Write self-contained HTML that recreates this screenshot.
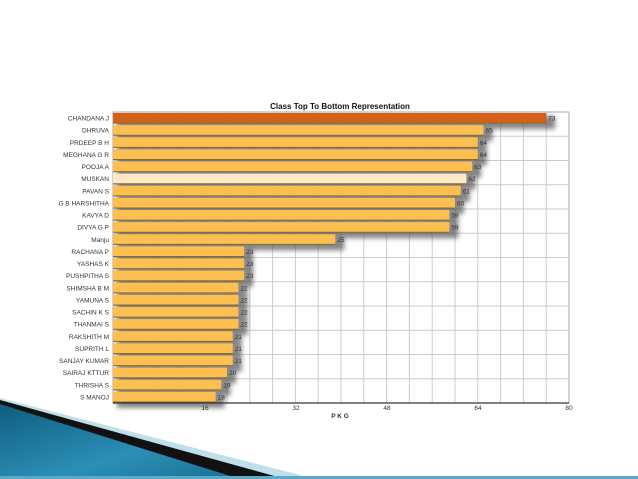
<!DOCTYPE html>
<html><head><meta charset="utf-8"><style>
body{margin:0;background:#fff;width:638px;height:479px;overflow:hidden;font-family:"Liberation Sans",sans-serif}
svg{display:block}
</style></head><body>
<svg id="c" width="638" height="479">
<defs>
<linearGradient id="sw" x1="0" y1="0" x2="1" y2="1"><stop offset="0" stop-color="#0f5d80"/><stop offset="0.6" stop-color="#2b8fb5"/><stop offset="1" stop-color="#1a6f94"/></linearGradient>
<filter id="sh" x="-10%" y="-50%" width="130%" height="250%"><feGaussianBlur stdDeviation="2.5"/></filter>
</defs>
<g>
<polygon points="0,398 300,475 300,479 0,479" fill="#bfe0ea"/>
<polygon points="0,400 285,479 0,479" fill="#111"/>
<polygon points="0,404 240,479 0,479" fill="url(#sw)"/>
<rect x="0" y="476" width="638" height="3" fill="#5aa9c6"/>
</g>
<text x="340" y="109" font-size="8" font-weight="bold" text-anchor="middle" fill="#111">Class Top To Bottom Representation</text>
<g id="grid"></g>
<g id="bars"></g>
<g id="axis"></g>
</svg>
<script>
const names=["CHANDANA J","DHRUVA","PRDEEP  B H","MEGHANA G R","POOJA A","MUSKAN","PAVAN  S","G  B  HARSHITHA","KAVYA D","DIVYA G P","Manju","RACHANA P","YASHAS K","PUSHPITHA S","SHIMSHA  B M","YAMUNA  S","SACHIN K S","THANMAI  S","RAKSHITH  M","SUPRITH L","SANJAY KUMAR","SAIRAJ KTTUR","THRISHA    S","S  MANOJ"];
const values=[76,65,64,64,63,62,61,60,59,59,39,23,23,23,22,22,22,22,21,21,21,20,19,18];
const printed=["73","65","64","64","63","62","61","60","59","59","25","23","23","23","22","22","22","22","21","21","21","20","19","18"];
const ticks=[16,32,48,64,80];
const X0=113,X1=569,T=112,B=403,XMAX=80;
const x=v=>X0+(v/XMAX)*(X1-X0);
const pitch=(B-T)/names.length;
const y=i=>T+i*pitch;
const NS="http://www.w3.org/2000/svg";
function mk(t,a,p){const e=document.createElementNS(NS,t);for(const k in a)e.setAttribute(k,a[k]);p.appendChild(e);return e;}
const G=document.getElementById('grid'),Bs=document.getElementById('bars'),A=document.getElementById('axis');
mk('rect',{x:X0,y:T,width:X1-X0,height:B-T,fill:'#fff',stroke:'#aaa','stroke-width':1},G);
for(let v=4;v<XMAX;v+=4){const l=mk('line',{x1:x(v),x2:x(v),y1:T,y2:B,stroke:'#ccc','stroke-width':1},G);

}
for(let i=2;i<names.length;i+=2){const l=mk('line',{x1:X0,x2:X1,y1:y(i),y2:y(i),stroke:'#ccc','stroke-width':1},G);

}
names.forEach((n,i)=>{
const by=y(i)+1,bh=pitch-2,bw=x(values[i])-X0;
const s=mk('rect',{x:X0+4,y:by+3,width:bw+5,height:bh+3,fill:'#555',opacity:0.7,filter:'url(#sh)'},Bs);


const col=i==0?'#d4601a':(i==5?'#fde9c8':'#fdbf50');
const r=mk('rect',{x:X0,y:by,width:bw,height:bh,fill:col},Bs);


mk('line',{x1:X0,x2:X0+bw,y1:by+bh,y2:by+bh,stroke:'#8a6a30','stroke-width':1},Bs);
const lb=mk('text',{x:X0-4,y:y(i)+pitch/2+2.5,'font-size':6.5,'text-anchor':'end',fill:'#333'},Bs);
lb.textContent=n;


const vl=mk('text',{x:X0+bw+2,y:y(i)+pitch/2+2.5,'font-size':6.5,fill:'#333'},Bs);
vl.textContent=printed[i];


});
const ax=mk('line',{x1:X0,x2:X1,y1:B,y2:B,stroke:'#333','stroke-width':1.2},A);


ticks.forEach(t=>{const tx=mk('text',{x:205+(t-16)/16*91,y:B+7,'font-size':6.5,'text-anchor':'middle',fill:'#333'},A);
tx.textContent=t;

});
const xt=mk('text',{x:340,y:B+15,'font-size':6.5,'font-weight':'bold','text-anchor':'middle',fill:'#333'},A);
xt.textContent='P K G';


</script>
</body></html>
